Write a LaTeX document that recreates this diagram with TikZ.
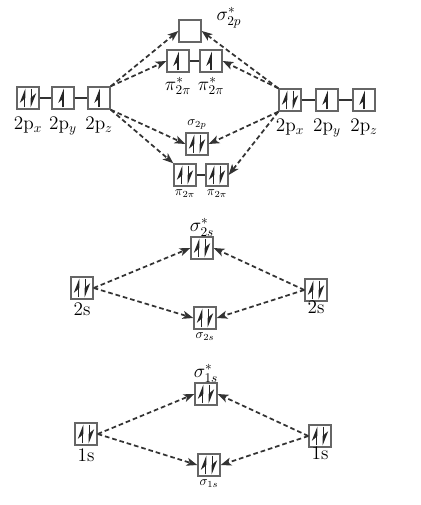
\documentclass[tikz,border=0pt]{standalone}
\usetikzlibrary{arrows.meta,positioning}

\tikzset{
  orb/.style={draw=black!60, line width=1pt, minimum size=16.5pt, inner sep=0pt},
  spin/.style={line width=1.2pt, black!85, -{Stealth[harpoon,length=9pt,width=7pt]}},
  link/.style={line width=1.1pt, black!80},
  mix/.style={line width=1.3pt, black!80, dash pattern=on 3.5pt off 2.2pt,
    -{Stealth[length=8pt,width=6pt,inset=2pt]}},
  big/.style={font=\Large, inner sep=1pt},
  small/.style={font=\normalsize, inner sep=1pt},
  pics/up/.style={code={\draw[spin] (0pt,-7pt) -- (0pt,7pt);}},
  pics/pair/.style={code={
      \draw[spin] (-2.6pt,-7pt) -- (-2.6pt,7pt);
      \draw[spin] (2.6pt,7pt) -- (2.6pt,-7pt);}},
}

\begin{document}
\begin{tikzpicture}[x=0.75pt, y=-0.75pt]
    \useasboundingbox (0,0) rectangle (420,505);

    % 2p levels of the left atom
    \node[orb] (pxL) at (28,98) {};
    \node[orb] (pyL) at (63,98) {};
    \node[orb] (pzL) at (99,98) {};
    \pic at (pxL) {pair};
    \pic at (pyL) {up};
    \pic at (pzL) {up};
    \draw[link] (pxL) -- (pyL);
    \draw[link] (pyL) -- (pzL);
    \node[big, below=4pt of pxL] (pxLlab) {2p$_x$};
    \node[big, below=4pt of pyL] (pyLlab) {2p$_y$};
    \node[big, below=4pt of pzL] (pzLlab) {2p$_z$};

    % 2p levels of the right atom
    \node[orb] (pxR) at (290,100) {};
    \node[orb] (pyR) at (327,100) {};
    \node[orb] (pzR) at (364,100) {};
    \pic at (pxR) {pair};
    \pic at (pyR) {up};
    \pic at (pzR) {up};
    \draw[link] (pxR) -- (pyR);
    \draw[link] (pyR) -- (pzR);
    \node[big, below=4pt of pxR] (pxRlab) {2p$_x$};
    \node[big, below=4pt of pyR] (pyRlab) {2p$_y$};
    \node[big, below=4pt of pzR] (pzRlab) {2p$_z$};

    % Molecular orbitals from 2p
    \node[orb] (sa) at (190,31) {};
    \node[orb] (piaL) at (178,61) {};
    \node[orb] (piaR) at (211,61) {};
    \node[orb] (sb) at (197,144) {};
    \node[orb] (pibL) at (185,175) {};
    \node[orb] (pibR) at (217,175) {};
    \pic at (piaL) {up};
    \pic at (piaR) {up};
    \pic at (sb) {pair};
    \pic at (pibL) {pair};
    \pic at (pibR) {pair};
    \draw[link] (piaL) -- (piaR);
    \draw[link] (pibL) -- (pibR);
    \node[big] (salab) at (229,18) {$\sigma^*_{2p}$};
    \node[big, below=2pt of piaL] (piaLlab) {$\pi^*_{2\pi}$};
    \node[big, below=2pt of piaR] (piaRlab) {$\pi^*_{2\pi}$};
    \node[small, above=1pt of sb] (sblab) {$\sigma_{2p}$};
    \node[small, below=1pt of pibL] (pibLlab) {$\pi_{2\pi}$};
    \node[small, below=1pt of pibR] (pibRlab) {$\pi_{2\pi}$};

    % Mixing of the 2p levels
    \draw[mix] (pzL.north east) -- (sa.west);
    \draw[mix] (pzL.north east) -- (piaL.west);
    \draw[mix] (pzL.south east) -- (sb.west);
    \draw[mix] (pzL.south east) -- (pibL.north west);
    \draw[mix] (pxR.north west) -- (sa.east);
    \draw[mix] (pxR.north west) -- (piaR.east);
    \draw[mix] (pxR.south west) -- (sb.east);
    \draw[mix] (pxR.south west) -- (pibR.east);

    % 2s levels
    \node[orb] (s2L) at (82,288) {};
    \node[orb] (s2R) at (316,290) {};
    \node[orb] (s2a) at (202,248) {};
    \node[orb] (s2b) at (205,318) {};
    \foreach \n in {s2L,s2R,s2a,s2b}
        \pic at (\n) {pair};
    \node[big, below=1pt of s2L] (s2Llab) {2s};
    \node[big, below=-2pt of s2R] (s2Rlab) {2s};
    \node[big, above=-1pt of s2a] (s2alab) {$\sigma^*_{2s}$};
    \node[small, below=1pt of s2b] (s2blab) {$\sigma_{2s}$};
    \draw[mix] (s2L.east) -- (s2a.west);
    \draw[mix] (s2L.east) -- (s2b.west);
    \draw[mix] (s2R.west) -- (s2a.east);
    \draw[mix] (s2R.west) -- (s2b.east);

    % 1s levels
    \node[orb] (s1L) at (86,434) {};
    \node[orb] (s1R) at (320,436) {};
    \node[orb] (s1a) at (206,394) {};
    \node[orb] (s1b) at (209,465) {};
    \foreach \n in {s1L,s1R,s1a,s1b}
        \pic at (\n) {pair};
    \node[big, below=1pt of s1L] (s1Llab) {1s};
    \node[big, below=-2pt of s1R] (s1Rlab) {1s};
    \node[big, above=-1pt of s1a] (s1alab) {$\sigma^*_{1s}$};
    \node[small, below=1pt of s1b] (s1blab) {$\sigma_{1s}$};
    \draw[mix] (s1L.east) -- (s1a.west);
    \draw[mix] (s1L.east) -- (s1b.west);
    \draw[mix] (s1R.west) -- (s1a.east);
    \draw[mix] (s1R.west) -- (s1b.east);

\end{tikzpicture}
\end{document}
